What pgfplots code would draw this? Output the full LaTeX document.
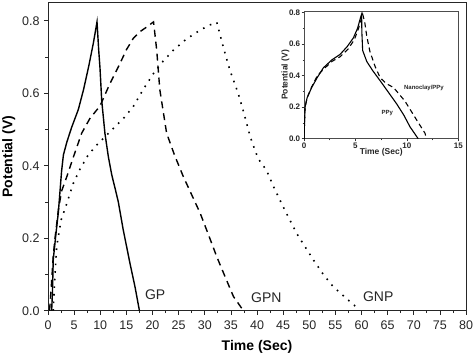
\documentclass[border=0pt]{standalone}
\usepackage{fontspec}
\setmainfont{Liberation Sans}
\usepackage{pgfplots}
\pgfplotsset{compat=1.18}
\begin{document}
\begin{tikzpicture}
\begin{axis}[name=main, scale only axis, width=418pt, height=308pt,
 xmin=0, xmax=80, ymin=0, ymax=0.85,
 xtick distance=5, ytick={0,0.2,0.4,0.6,0.8},
 minor x tick num=1, minor y tick num=1,
 tick pos=left, tick align=outside, major tick length=4pt, minor tick length=2.5pt,
 /pgf/number format/assume math mode=true,
 y tick label style={/pgf/number format/fixed, /pgf/number format/fixed zerofill, /pgf/number format/precision=1, xshift=-1pt},
 x tick label style={yshift=-3pt},
 ticklabel style={font=\fontsize{12.5}{14}\selectfont, black!85},
 xlabel={\textbf{Time (Sec)}}, ylabel={\textbf{Potential (V)}},
 label style={font=\fontsize{14}{16}\selectfont},
 xlabel style={yshift=-3pt}, ylabel style={yshift=0pt},
 axis line style={line width=0.8pt, black!85},
 every tick/.style={black!85, line width=0.7pt},
]
\addplot[black, line width=1.4pt] coordinates {
(0.7,0) (0.85,0.05) (1.0,0.14) (1.5,0.21) (1.97,0.27) (2.3,0.33) (2.6,0.385) (2.95,0.43) (3.6,0.465) (4.5,0.505) (5.8,0.555) (6.8,0.61) (7.8,0.675) (8.7,0.74) (9.38,0.797)
(9.7,0.72) (9.95,0.67) (10.28,0.58) (10.9,0.489) (11.55,0.425) (12.2,0.375) (12.8,0.34) (13.46,0.3) (14.4,0.223) (15.7,0.13) (16.65,0.066) (17.5,0)};
\addplot[black, line width=1.4pt, dash pattern=on 7pt off 5pt] coordinates {
(0.3,0) (0.6,0.06) (1.0,0.15) (1.34,0.2) (2.0,0.28) (2.6,0.33) (3.6,0.37) (5.0,0.43) (6.45,0.49) (8.0,0.53) (9.95,0.565) (11.8,0.625) (13.8,0.683) (15.0,0.72) (16.3,0.751) (17.6,0.77) (18.9,0.783) (20.2,0.797)
(20.8,0.72) (21.4,0.61) (22.7,0.49) (24.2,0.43) (25.9,0.37) (27.5,0.32) (29.1,0.27) (30.7,0.21) (32.3,0.149) (34.0,0.09) (35.5,0.039) (37.4,0)};
\addplot[black, line width=1.6pt, dash pattern=on 1.6pt off 6pt] coordinates {
(1.0,0) (1.3,0.09) (1.66,0.177) (2.5,0.25) (3.6,0.296) (4.8,0.35) (6.1,0.39) (7.7,0.43) (9.3,0.457) (10.9,0.48) (12.5,0.503) (14.4,0.53) (16.3,0.563) (18.2,0.61) (20.2,0.655) (22.1,0.69) (24,0.719) (26.5,0.75) (29.1,0.774) (30.7,0.787) (32.3,0.796)
(33.5,0.73) (34.8,0.664) (36.4,0.6) (37.6,0.54) (38.7,0.48) (40.2,0.42) (41.8,0.388) (43.4,0.335) (45,0.287) (47.6,0.213) (50.8,0.14) (52.7,0.1) (54.6,0.066) (57.8,0.025) (59.4,0.005)};
\node[font=\fontsize{14}{16}\selectfont, black!85] at (axis cs:20.5,0.043) {GP};
\node[font=\fontsize{14}{16}\selectfont, black!85] at (axis cs:41.8,0.036) {GPN};
\node[font=\fontsize{14}{16}\selectfont, black!85] at (axis cs:63.2,0.04) {GNP};
\coordinate (insetSW) at (axis cs:49,0.4745);
\end{axis}
\begin{axis}[at={(insetSW)}, anchor=south west, scale only axis, width=154.3pt, height=127.7pt,
 xmin=0, xmax=15, ymin=0, ymax=0.81,
 xtick={0,5,10,15}, ytick={0,0.2,0.4,0.6,0.8},
 minor x tick num=1, minor y tick num=1,
 tick pos=left, tick align=outside, major tick length=2.5pt, minor tick length=1.5pt,
 /pgf/number format/assume math mode=true,
 y tick label style={/pgf/number format/fixed, /pgf/number format/fixed zerofill, /pgf/number format/precision=1},
 ticklabel style={font=\bfseries\fontsize{8}{9}\selectfont, black!85, inner sep=1.2pt},
 xlabel={Time (Sec)}, ylabel={Potential (V)},
 label style={font=\bfseries\fontsize{8.5}{9}\selectfont, black!85},
 xlabel style={yshift=5pt}, ylabel style={yshift=-5pt},
 axis line style={line width=0.6pt, black!70},
 every tick/.style={black!80, line width=0.6pt},
]
\addplot[black, line width=1.1pt] coordinates {
(0,0) (0.05,0.1) (0.1,0.2) (0.3,0.26) (0.75,0.326) (1.3,0.39) (1.88,0.45) (2.7,0.5) (3.5,0.535) (4.2,0.585) (4.8,0.64) (5.2,0.7) (5.5,0.77) (5.6,0.79)
(5.62,0.68) (5.7,0.56) (6.1,0.49) (6.7,0.43) (7.4,0.368) (8.2,0.295) (9.0,0.222) (9.7,0.15) (10.3,0.076) (11.1,0)};
\addplot[black, line width=1.1pt, dash pattern=on 5pt off 3.5pt] coordinates {
(0,0) (0.05,0.1) (0.1,0.2) (0.3,0.26) (0.75,0.33) (1.3,0.4) (1.88,0.44) (2.7,0.49) (3.5,0.52) (4.3,0.57) (4.9,0.63) (5.3,0.7) (5.7,0.79)
(5.9,0.74) (6.1,0.65) (6.4,0.555) (6.9,0.46) (7.4,0.387) (8.0,0.35) (8.7,0.325) (9.8,0.24) (10.95,0.119) (11.76,0.035) (11.9,0)};
\node[font=\bfseries\fontsize{6}{7}\selectfont, black!85] at (axis cs:11.66,0.32) {Nanoclay/PPy};
\node[font=\bfseries\fontsize{6}{7}\selectfont, black!85] at (axis cs:8.1,0.163) {PPy};
\end{axis}
\pgfresetboundingbox
\path ([shift={(-48pt,-42.3pt)}]main.south west) rectangle ([shift={(8pt,2.7pt)}]main.north east);
\end{tikzpicture}
\end{document}
